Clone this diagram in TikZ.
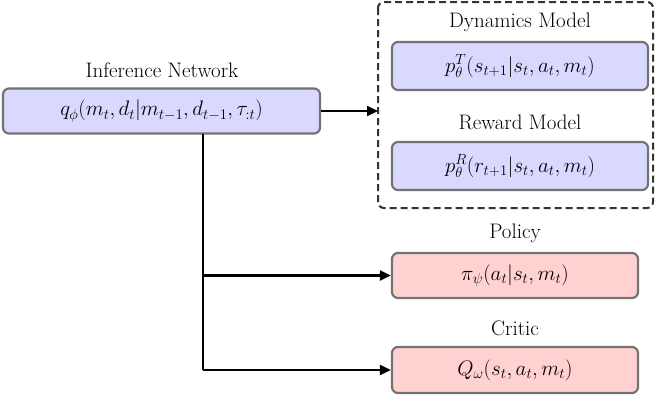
\documentclass[tikz,border=0pt]{standalone}
\usepackage{fix-cm}
\usetikzlibrary{arrows.meta}
\begin{document}
\begin{tikzpicture}[x=1pt,y=-1pt,
  box/.style={draw=black!55,line width=2.2pt,rounded corners=6pt,inner sep=0pt,font=\fontsize{21}{25}\selectfont},
  bl/.style={box,fill=blue!15},
  rd/.style={box,fill=red!18},
  lab/.style={font=\fontsize{21}{25}\selectfont},
  arr/.style={line width=2.2pt,-{Triangle[length=11pt,width=10pt]}}]
\useasboundingbox (0,0) rectangle (659,405);
\node[bl,minimum width=317,minimum height=45] (inf) at (161.5,111) {$q_\phi(m_t,d_t|m_{t-1},d_{t-1},\tau_{:t})$};
\node[lab] (infl) at (162,70) {Inference Network};
\draw[dash pattern=on 7pt off 4pt,line width=2pt,black!80,rounded corners=6pt] (378,2) rectangle (653,208);
\coordinate (dash) at (378,111);
\node[lab] (dl) at (520,22) {Dynamics Model};
\node[bl,minimum width=256,minimum height=48] (dyn) at (520,66) {$p_\theta^T(s_{t+1}|s_t,a_t,m_t)$};
\node[lab] (rl) at (520,122) {Reward Model};
\node[bl,minimum width=256,minimum height=48] (rew) at (520,166) {$p_\theta^R(r_{t+1}|s_t,a_t,m_t)$};
\node[lab] (pl) at (515,233) {Policy};
\node[rd,minimum width=246,minimum height=45] (pol) at (515,275.5) {$\pi_\psi(a_t|s_t,m_t)$};
\node[lab] (cl) at (515,328) {Critic};
\node[rd,minimum width=246,minimum height=46] (cri) at (515,370) {$Q_\omega(s_t,a_t,m_t)$};
\draw[arr] (inf.east) -- (dash);
\coordinate (j) at (203,133.5);
\draw[line width=2.2pt] (j) -- (203,370);
\draw[arr] (203,275.5) -- (pol.west);
\draw[arr] (203,370) -- (cri.west);
\end{tikzpicture}
\end{document}
